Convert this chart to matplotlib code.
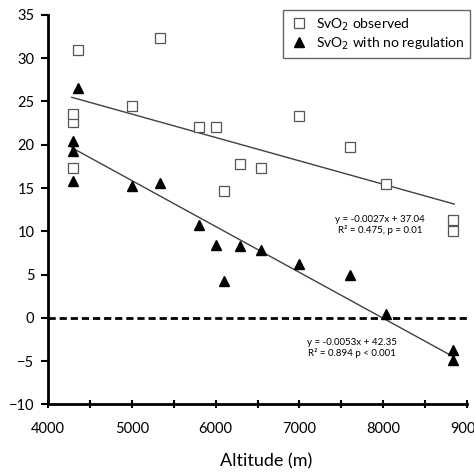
import numpy as np
import matplotlib
matplotlib.use("Agg")
import matplotlib.pyplot as plt

plt.rcParams['font.family'] = ['Lato', 'DejaVu Sans']

# SvO2 observed (open squares)
alt_obs = [4300, 4300, 4300, 4350, 5000, 5340, 5800, 6000, 6100, 6290, 6540, 7000, 7610, 8040, 8840, 8840]
svo2_obs = [17.3, 22.6, 23.5, 31.0, 24.5, 32.3, 22.0, 22.1, 14.6, 17.8, 17.3, 23.3, 19.7, 15.5, 11.3, 10.0]

# SvO2 with no regulation (filled triangles)
alt_noreg = [4300, 4300, 4300, 4350, 5000, 5340, 5800, 6000, 6100, 6290, 6540, 7000, 7610, 8040, 8840, 8840]
svo2_noreg = [15.8, 19.3, 20.4, 26.6, 15.2, 15.6, 10.7, 8.4, 4.3, 8.3, 7.8, 6.2, 5.0, 0.4, -3.7, -4.9]

# regression lines (slope, intercept) and span
fit_obs = (-0.0027, 37.04)
fit_noreg = (-0.0053, 42.35)
fit_span = [4280, 8850]

fig = plt.figure(figsize=(4.74, 4.74), dpi=100)
ax = fig.add_axes([0.1019, 0.147, 0.8829, 0.8214])

xs = np.array(fit_span)
ax.plot(xs, fit_obs[0] * xs + fit_obs[1], color='#404040', lw=1.0, zorder=2)
ax.plot(xs, fit_noreg[0] * xs + fit_noreg[1], color='#404040', lw=1.0, zorder=2)

ax.plot([4000, 9000], [0, 0], color='black', lw=2, ls=(0, (2.6, 1.4)), zorder=1)

ax.plot(alt_obs, svo2_obs, ls='none', marker='s', ms=6.5, mfc='white', mec='#555555',
        mew=0.9, label='SvO$_2$ observed', zorder=3)
ax.plot(alt_noreg, svo2_noreg, ls='none', marker='^', ms=7.2, mfc='black', mec='black',
        label='SvO$_2$ with no regulation', zorder=3)

ax.set_xlim(4000, 9000)
ax.set_ylim(-10, 35)
ax.set_xticks([4000, 5000, 6000, 7000, 8000, 9000])
ax.set_xticks(np.arange(4500, 9000, 1000), minor=True)
ax.set_yticks(np.arange(-10, 36, 5))

for s in ['top', 'right']:
    ax.spines[s].set_visible(False)
for s in ['left', 'bottom']:
    ax.spines[s].set_linewidth(2)

ax.tick_params(axis='y', direction='out', length=5, width=1.5, labelsize=10.5, pad=5, colors='black')
ax.tick_params(axis='x', which='both', direction='inout', length=6, width=1.5, labelsize=10.5, pad=10)

ax.set_xlabel('Altitude (m)', fontsize=13)
ax.xaxis.set_label_coords(0.52, -0.125)
ax.set_ylabel('SvO$_2$ (%)', fontsize=13)
ax.yaxis.set_label_coords(-0.125, 0.8)

ax.text(7965, 10.7, 'y = -0.0027x + 37.04\nR² = 0.475, p = 0.01', fontsize=7,
        ha='center', va='center', linespacing=1.15)
ax.text(7627, -3.5, 'y = -0.0053x + 42.35\nR² = 0.894 p < 0.001', fontsize=7,
        ha='center', va='center', linespacing=1.15)

leg = ax.legend(loc='upper left', bbox_to_anchor=(0.561, 1.013), frameon=True, fancybox=False,
                fontsize=10, handletextpad=0.5, borderpad=0.45, labelspacing=0.2,
                handlelength=1.4, markerscale=1.0, borderaxespad=0)
leg.get_frame().set_edgecolor('#404040')
leg.get_frame().set_linewidth(1.0)

fig.savefig('out.png', dpi=100)
